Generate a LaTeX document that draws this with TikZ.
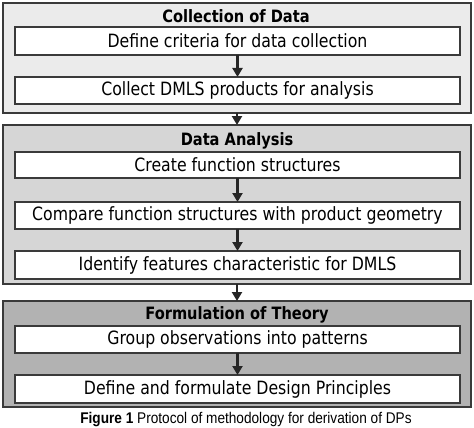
\documentclass[tikz,border=0pt]{standalone}
\usepackage{fontspec}
\setmainfont{DejaVu Sans}[FakeStretch=0.86]
\newfontfamily\capfont{Liberation Sans}[FakeStretch=0.88]
\usetikzlibrary{arrows.meta}
\definecolor{edge}{HTML}{3A3A3A}
\definecolor{fillA}{HTML}{EBEBEB}
\definecolor{fillB}{HTML}{D6D6D6}
\definecolor{fillC}{HTML}{B2B2B2}
\tikzset{
  x=1pt, y=-1pt,
  outer/.style={draw=edge, line width=2pt, minimum width=468pt, inner sep=0pt, outer sep=0pt},
  inner/.style={draw=edge, fill=white, line width=1.5pt, minimum width=445pt, inner sep=0pt, outer sep=0pt, font=\fontsize{18.3}{20}\selectfont},
  title/.style={inner sep=0pt, font=\bfseries\fontsize{17}{19}\selectfont},
  arr/.style={line width=2.2pt, draw=black!85, -{Triangle[length=9pt,width=10pt]}},
}
\begin{document}
\begin{tikzpicture}
\useasboundingbox (0,0) rectangle (474,428);
% group 1
\node[outer, fill=fillA, minimum height=110pt] (g1) at (237,58) {};
\node[title] (t1) at (236,16) {Collection of Data};
\node[inner, minimum height=28pt] (a1) at (237.5,41) {Define criteria for data collection};
\node[inner, minimum height=27pt] (a2) at (237.5,90.5) {Collect DMLS products for analysis};
% group 2
\node[outer, fill=fillB, minimum height=159pt] (g2) at (237,204.5) {};
\node[title] (t2) at (237,141) {Data Analysis};
\node[inner, minimum height=26pt] (b1) at (237.5,165) {Create function structures};
\node[inner, minimum height=27pt] (b2) at (237.5,215.5) {Compare function structures with product geometry};
\node[inner, minimum height=28pt] (b3) at (237.5,265) {Identify features characteristic for DMLS};
% group 3
\node[outer, fill=fillC, minimum height=106pt] (g3) at (237,354) {};
\node[title] (t3) at (237,315) {Formulation of Theory};
\node[inner, minimum height=27pt] (c1) at (237.5,339.5) {Group observations into patterns};
\node[inner, minimum height=28pt] (c2) at (237.5,389) {Define and formulate Design Principles};
% arrows
\draw[arr] (a1.south) -- (a2.north);
\draw[arr] (g1.south) -- (g2.north);
\draw[arr] (b1.south) -- (b2.north);
\draw[arr] (b2.south) -- (b3.north);
\draw[arr] (g2.south) -- (g3.north);
\draw[arr] (c1.south) -- (c2.north);
% caption
\node[inner sep=0pt, font=\capfont\fontsize{15.5}{17}\selectfont] (cap) at (246,420) {\textbf{Figure 1} Protocol of methodology for derivation of DPs};
\end{tikzpicture}
\end{document}
